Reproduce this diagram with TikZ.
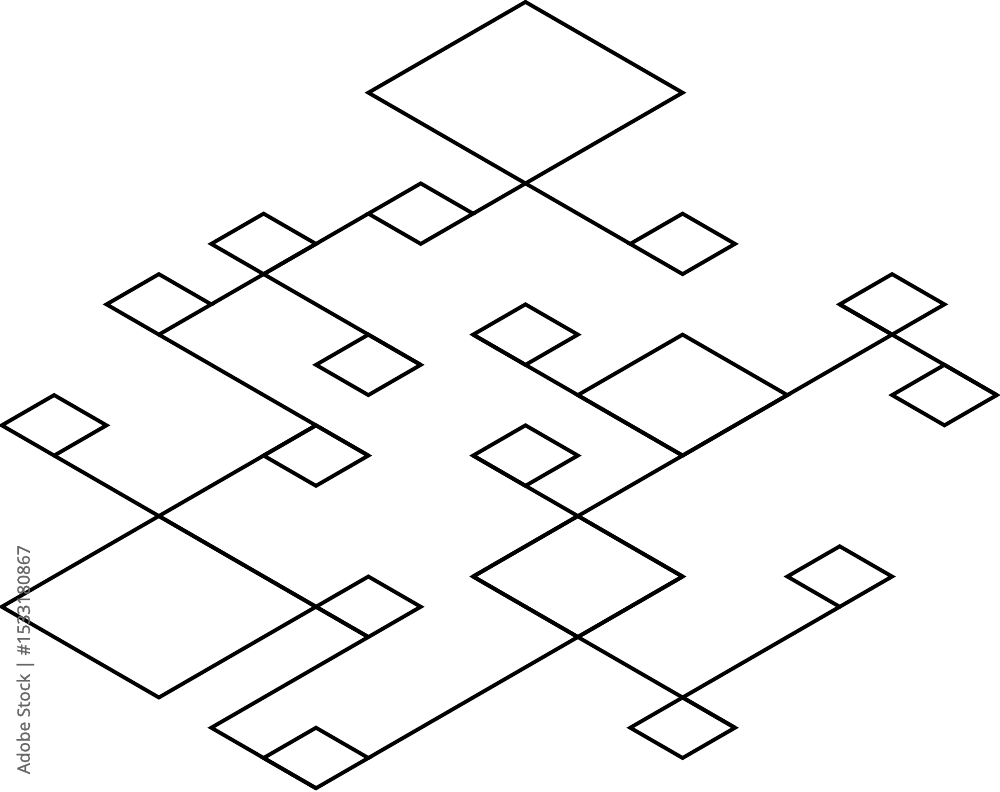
\documentclass[tikz,border=0pt]{standalone}
\usepackage{fontspec}
\newfontfamily\wmfont[FakeBold=1.3]{Open Sans}
\usetikzlibrary{shapes.geometric}
\begin{document}
\begin{tikzpicture}[x={(1.30925cm,0cm)}, y={(0cm,-0.756cm)},
  box/.style={draw=black, shape=diamond, inner sep=0pt, outer sep=0pt, line width=2.7pt},
  sm/.style={box, minimum width=2.6185cm, minimum height=1.512cm},
  md/.style={box, minimum width=5.237cm, minimum height=3.024cm},
  lg/.style={box, minimum width=7.8555cm, minimum height=4.536cm},
  link/.style={draw=black, line width=2.7pt, line join=miter},
  wmark/.style={rotate=90, text=black!60, font=\fontsize{12.3}{13}\selectfont\wmfont}]
\useasboundingbox (-10.034,-6.065) rectangle (9.0605,20.093);

% diamonds
\node[lg] (T) at (0,-3) {};
\node[lg] (G) at (-7,14) {};
\node[md] (J) at (1,13) {};
\node[md] (S) at (3,7) {};
\node[sm] (P) at (3,2) {};
\node[sm] (A) at (-2,1) {};
\node[sm] (B) at (-5,2) {};
\node[sm] (C) at (-7,4) {};
\node[sm] (D) at (-3,6) {};
\node[sm] (E) at (-4,9) {};
\node[sm] (F) at (-9,8) {};
\node[sm] (H) at (-3,14) {};
\node[sm] (I) at (-4,19) {};
\node[sm] (K) at (0,9) {};
\node[sm] (L) at (3,18) {};
\node[sm] (M) at (6,13) {};
\node[sm] (R) at (0,5) {};
\node[sm] (Q) at (7,4) {};
\node[sm] (N) at (8,7) {};

\coordinate (bend) at (-6,18);

% connectors
\draw[link] (T.south) -- (A.east);
\draw[link] (T.south) -- (P.west);
\draw[link] (A.west) -- (C.east);
\draw[link] (B.south) -- (D.east);
\draw[link] (C.south) -- (E.east);
\draw[link] (G.north) -- (E.north);
\draw[link] (F.south) -- (H.south);
\draw[link] (H.south) -- (bend) -- (I.south);
\draw[link] (I.east) -- (J.east);
\draw[link] (J.west) -- (L.east);
\draw[link] (L.north) -- (M.south);
\draw[link] (K.west) -- (J.east);
\draw[link] (Q.south) -- (J.west);
\draw[link] (R.west) -- (S.south);
\draw[link] (Q.west) -- (N.east);

% vertical credit line
\node[wmark] (wm) at (-9.55,15.75) {Adobe Stock | \#1533180867};
\end{tikzpicture}
\end{document}
